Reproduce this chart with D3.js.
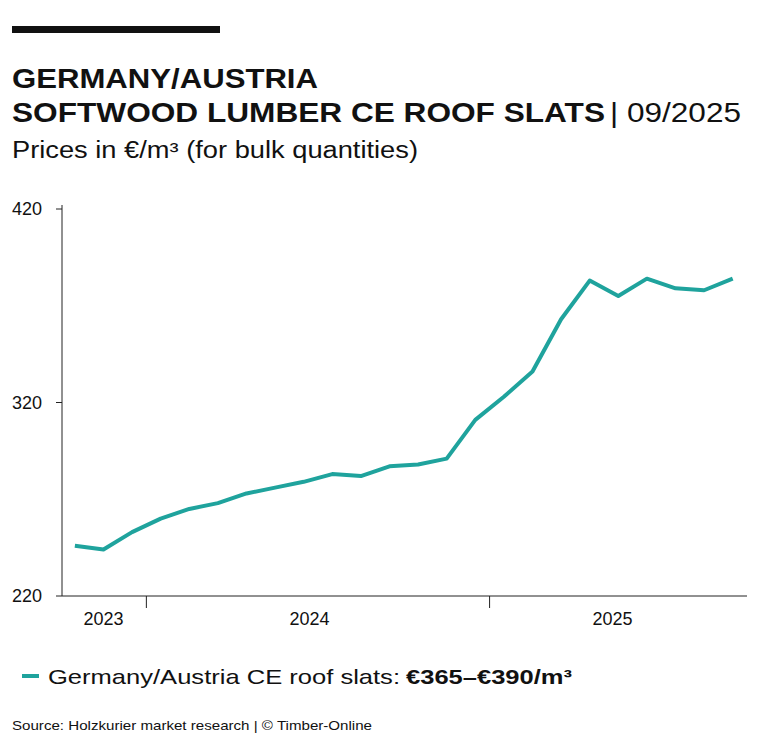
<!doctype html>
<html>
<head>
<style>
  body { margin: 0; background: #fff; }
  text { font-family: 'Liberation Sans', Arial, sans-serif; fill: #111; }
</style>
<script src="https://d3js.org/d3.v7.min.js"></script>
</head>
<body>
<script>
// monthly prices, Oct 2022 .. Sep 2025
var months = d3.range(24);
var prices = [246, 244, 253, 260, 265, 268, 273, 276, 279, 283, 282, 287, 288, 291,
              311, 323, 336, 363, 383, 375, 384, 379, 378, 384];
var yTicks = [220, 320, 420];
var yearBreaks = [2.5, 14.5];
var yearLabels = [{pos: 1, text: "2023"}, {pos: 8.2, text: "2024"}, {pos: 18.8, text: "2025"}];

var svg = d3.select("body").append("svg").attr("width", 768).attr("height", 742);

// text stretched to the widths of the reference
function txt(x0, yy, size, w, s, bold) {
  return svg.append("text").attr("x", x0).attr("y", yy).attr("font-size", size)
    .attr("font-weight", bold ? "bold" : "normal")
    .attr("textLength", w).attr("lengthAdjust", "spacingAndGlyphs").text(s);
}

svg.append("rect").attr("x", 12).attr("y", 26).attr("width", 208).attr("height", 7).attr("fill", "#111");
txt(12, 88, 27, 306, "GERMANY/AUSTRIA", true);
txt(12, 122, 27, 593, "SOFTWOOD LUMBER CE ROOF SLATS", true);
txt(610, 122, 27, 131, "| 09/2025", false);
txt(12, 158, 23, 406, "Prices in €/m³ (for bulk quantities)", false);

var x = d3.scaleLinear().domain([-0.45, 23.5]).range([62, 747]);
var y = d3.scaleLinear().domain([220, 420]).range([596, 209]);

svg.append("line").attr("x1", 62).attr("x2", 62).attr("y1", 205).attr("y2", 596).attr("stroke", "#222");
svg.append("line").attr("x1", 62).attr("x2", 747).attr("y1", 596).attr("y2", 596).attr("stroke", "#222");

svg.selectAll(".yl").data(yTicks).enter().append("text")
  .attr("x", 12).attr("y", d => y(d) + 6).attr("font-size", 18).attr("fill", "#333").text(d => d);
svg.selectAll(".yt").data(yTicks).enter().append("line")
  .attr("x1", 56).attr("x2", 62).attr("y1", d => y(d)).attr("y2", d => y(d)).attr("stroke", "#222");
svg.selectAll(".xt").data(yearBreaks).enter().append("line")
  .attr("x1", d => x(d)).attr("x2", d => x(d)).attr("y1", 596).attr("y2", 608).attr("stroke", "#222");
svg.selectAll(".xl").data(yearLabels).enter().append("text")
  .attr("x", d => x(d.pos)).attr("y", 625).attr("text-anchor", "middle").attr("font-size", 18).attr("fill", "#333")
  .text(d => d.text);

var line = d3.line().x(d => x(d)).y((d, i) => y(prices[i]));
svg.append("path").datum(months).attr("d", line).attr("fill", "none")
  .attr("stroke", "#1fa39d").attr("stroke-width", 4).attr("stroke-linejoin", "round");

svg.append("line").attr("x1", 22).attr("x2", 39).attr("y1", 676).attr("y2", 676)
  .attr("stroke", "#1fa39d").attr("stroke-width", 4);
txt(48, 684, 21, 352, "Germany/Austria CE roof slats:", false);
txt(406, 684, 21, 166, "€365–€390/m³", true);

txt(12, 730, 13, 360, "Source: Holzkurier market research | © Timber-Online", false);
</script>
</body>
</html>
